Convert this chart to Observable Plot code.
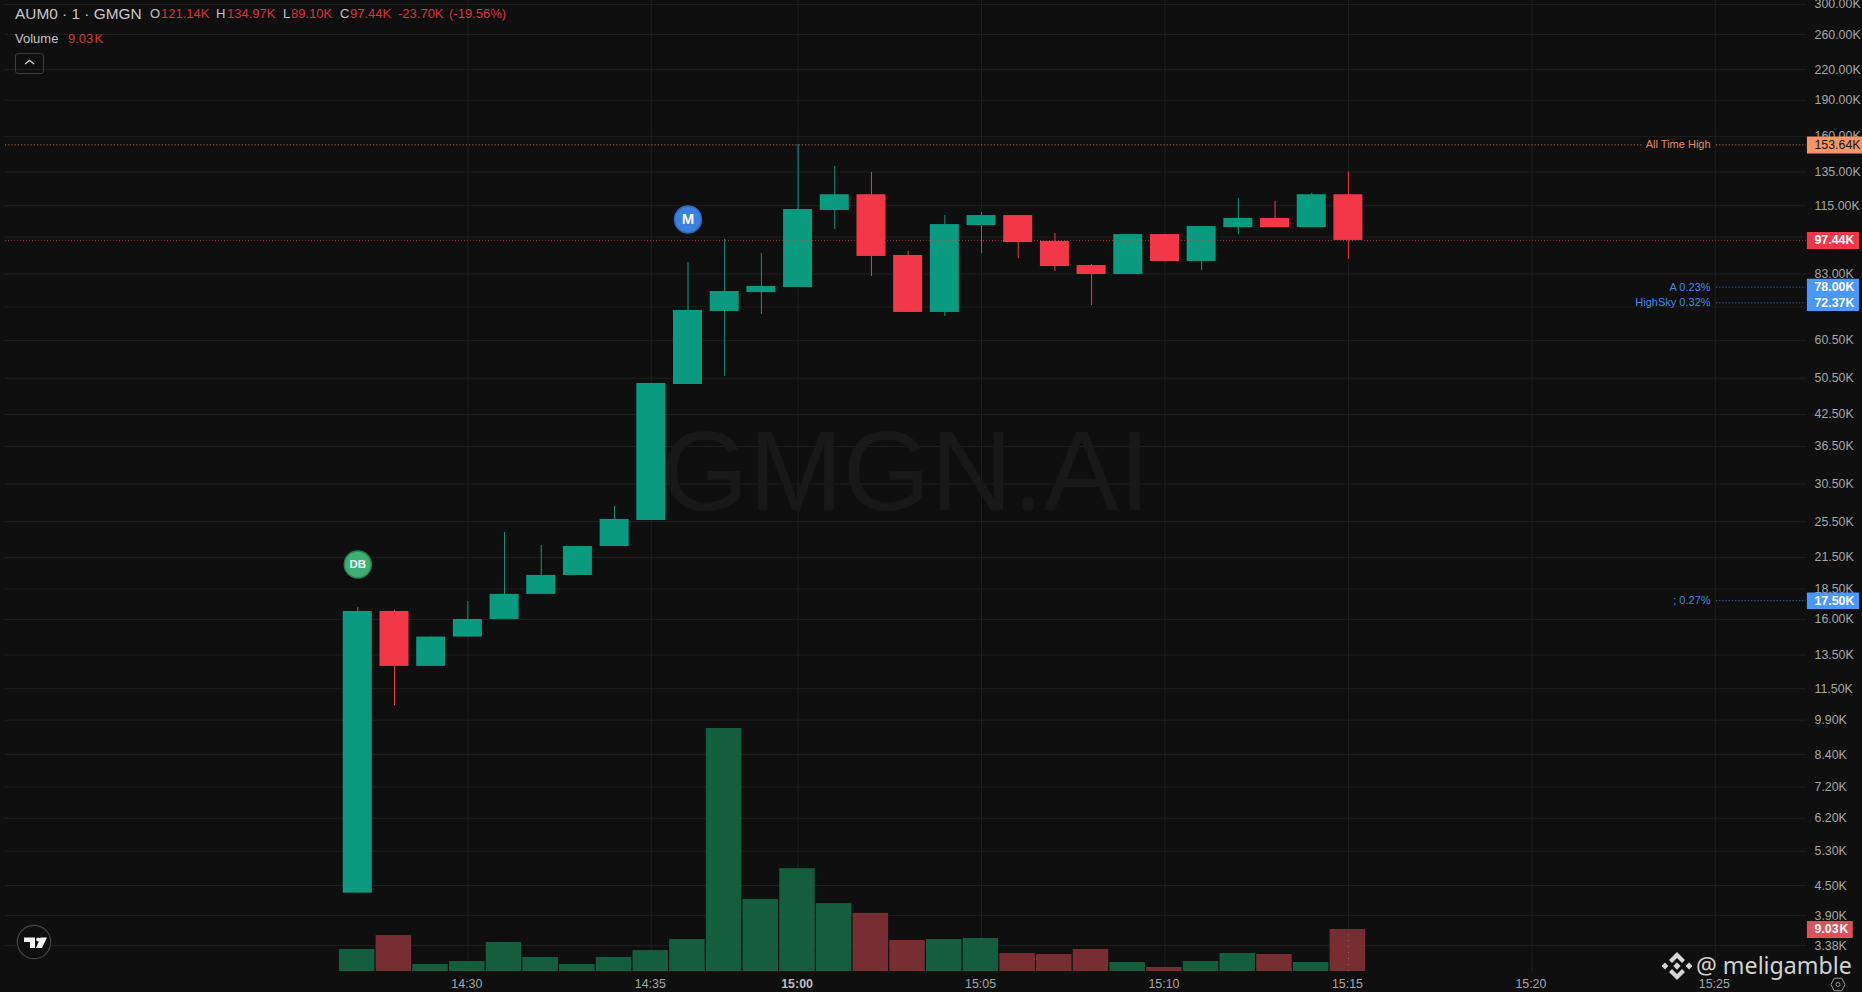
<!DOCTYPE html>
<html>
<head>
<meta charset="utf-8">
<script src="https://cdn.jsdelivr.net/npm/d3@7"></script>
<script src="https://cdn.jsdelivr.net/npm/@observablehq/plot@0.6"></script>
<style>
html,body{margin:0;padding:0;background:#0f0f0f;overflow:hidden}
#stage{position:relative;width:1862px;height:992px;background:#0f0f0f;font-family:"Liberation Sans",Arial,sans-serif;overflow:hidden}
#stage svg.layer{position:absolute;left:0;top:0;max-width:none}
.t{position:absolute;white-space:pre;line-height:16px;font-size:13px;color:#c4c4c4}
</style>
</head>
<body>
<div id="stage"></div>
<script>
// ---------- data (K) ----------
const opens  = [4.34,16.62,12.79,14.71,16.00,18.03,19.73,22.65,25.64,49.03,69.45,76.00,77.87,112.4,121.14,90.70,69.12,104.6,109.7,96.93,86.45,82.84,100.2,88.14,103.6,108.2,103.6,121.14];
const highs  = [16.94,16.71,14.71,17.43,24.22,22.76,22.65,27.41,49.27,87.72,97.90,91.56,153.64,138.6,134.7,92.42,109.7,111.3,109.7,100.7,86.87,100.2,100.2,104.1,119.0,117.3,122.0,134.97];
const lows   = [4.34,10.61,12.79,14.71,16.00,18.03,19.73,22.65,25.64,49.03,50.94,68.47,77.87,102.65,82.05,69.12,67.80,91.56,89.40,84.03,71.46,82.84,88.14,84.43,100.2,103.6,103.6,89.10];
const closes = [16.62,12.79,14.71,16.00,18.03,19.73,22.65,25.77,49.27,69.78,76.37,78.24,112.9,121.14,90.27,69.12,105.1,109.7,96.47,86.04,82.84,100.2,88.14,104.1,108.2,103.6,121.14,97.44];
const volumes= [4.73,7.74,1.50,2.15,6.24,3.00,1.50,3.00,4.50,6.88,52.25,15.5,22.1,14.6,12.5,6.67,6.88,7.10,3.87,3.66,4.73,1.94,0.86,2.15,3.87,3.66,1.94,9.03];
const priceTicks = [300,260,220,190,160,135,115,99,83,71,60.5,50.5,42.5,36.5,30.5,25.5,21.5,18.5,16,13.5,11.5,9.9,8.4,7.2,6.2,5.3,4.5,3.9,3.38];
const timeTicks  = [3,8,17,22,27,32,37];
const timeLabels = ["14:30","14:35","15:05","15:10","15:15","15:20","15:25"];
const boldTick = 12, boldLabel = "15:00";
const athValue = 153.64, lastValue = 97.44;
const blueLevels = [{v:78.00,label:"A 0.23%"},{v:72.37,label:"HighSky 0.32%"},{v:17.50,label:"; 0.27%"}];
const dbMarker = [{i:0,v:20.8,t:"DB"}];
const mMarker  = [{i:9,v:107.7,t:"M"}];

const GREEN="#0a9a80", RED="#f23848";
const candles = opens.map((o,i)=>({i,o,h:highs[i],l:lows[i],c:closes[i],up:closes[i]>=o,v:volumes[i]}));
const xDomain=[-9.602,39.485], axisStart=39.51, axisEnd=40.93, edge=41.02, volEnd=40.76, lblEnd=37.03, lblGap=35.0;
const common={width:1862,height:992,marginLeft:5,marginRight:56,marginTop:0};
const font={background:"none",fontFamily:'"Liberation Sans",Arial,sans-serif',fontSize:"12.4px",overflow:"visible"};
const fmt=d=>d.toFixed(2)+"K";

const price = Plot.plot({
  ...common, marginBottom:20, style:font,
  x:{type:"linear",domain:xDomain},
  y:{type:"log",domain:[2.973,305.8]},
  marks:[
    Plot.gridX(timeTicks.concat(boldTick),{stroke:"#1f1f1f",strokeOpacity:1}),
    Plot.gridY(priceTicks,{stroke:"#1f1f1f",strokeOpacity:1}),
    Plot.text(["GMGN.AI"],{x:14.93,y:32,text:d=>d,fontSize:113,fill:"#181818",textAnchor:"middle",lineAnchor:"middle"}),
    Plot.axisY(priceTicks,{anchor:"right",tickSize:0,tickPadding:8,tickFormat:fmt,fill:"#a6a6a6"}),
    Plot.axisX(timeTicks,{anchor:"bottom",tickSize:0,tickPadding:7,tickFormat:d=>timeLabels[timeTicks.indexOf(d)],fill:"#a6a6a6",label:null,dx:-1}),
    Plot.axisX([boldTick],{anchor:"bottom",tickSize:0,tickPadding:7,tickFormat:()=>boldLabel,fill:"#bdbdbd",fontWeight:"bold",label:null,dx:-1}),
    Plot.ruleX(candles,{x:"i",y1:"l",y2:"h",stroke:d=>d.up?GREEN:RED,strokeWidth:1}),
    Plot.rect(candles,{x1:d=>d.i-.5,x2:d=>d.i+.5,y1:"o",y2:"c",insetLeft:3.85,insetRight:3.85,fill:d=>d.up?GREEN:RED}),
    Plot.ruleY([athValue],{x1:xDomain[0],x2:lblGap,stroke:"#d98a62",strokeOpacity:.8,strokeDasharray:"1.2,2"}),
    Plot.ruleY([athValue],{x1:lblEnd,x2:xDomain[1],stroke:"#d98a62",strokeOpacity:.8,strokeDasharray:"1.2,2"}),
    Plot.ruleY([lastValue],{x1:xDomain[0],x2:xDomain[1],stroke:RED,strokeOpacity:.65,strokeDasharray:"1,2"}),
    Plot.ruleY(blueLevels,{y:"v",x1:lblEnd,x2:xDomain[1],stroke:"#4a94ff",strokeOpacity:.7,strokeDasharray:"1.2,2"}),
    Plot.text(["All Time High"],{x:36.87,y:athValue,text:d=>d,textAnchor:"end",fontSize:11,fill:"#e58a60"}),
    Plot.text(blueLevels,{x:36.87,y:"v",text:"label",textAnchor:"end",fontSize:11,fill:"#3f8be6"}),
    Plot.dot(dbMarker,{x:"i",y:"v",r:13.5,fill:"#3fae74",stroke:"#2a8050",strokeWidth:1.5}),
    Plot.dot(mMarker,{x:"i",y:"v",r:13.5,fill:"#3a80dc",stroke:"#2f66b4",strokeWidth:1.5}),
    Plot.text(dbMarker,{x:"i",y:"v",text:"t",fill:"#f0fff6",fontWeight:"bold",fontSize:11.5}),
    Plot.text(mMarker,{x:"i",y:"v",text:"t",fill:"#f4f8ff",fontWeight:"bold",fontSize:15}),
    Plot.ruleY([athValue],{x1:axisStart,x2:edge,stroke:"#f5956a",strokeWidth:17}),
    Plot.ruleY([lastValue],{x1:axisStart,x2:axisEnd,stroke:RED,strokeWidth:17}),
    Plot.ruleY(blueLevels,{y:"v",x1:axisStart,x2:axisEnd,stroke:"#4a97ff",strokeWidth:16.5}),
    Plot.text([athValue],{x:axisStart,y:d=>d,text:fmt,textAnchor:"start",dx:7,fill:"#141414"}),
    Plot.text([lastValue],{x:axisStart,y:d=>d,text:fmt,textAnchor:"start",dx:7,fill:"#fff",fontWeight:"bold"}),
    Plot.text(blueLevels,{x:axisStart,y:"v",text:d=>fmt(d.v),textAnchor:"start",dx:7,fill:"#fff",fontWeight:"bold"})
  ]
});
price.classList.add("layer");

const lastVol = volumes[volumes.length-1];
const volume = Plot.plot({
  ...common, marginBottom:21, style:font,
  x:{type:"linear",domain:xDomain,axis:null},
  y:{type:"linear",domain:[0,208.8],axis:null},
  marks:[
    Plot.rect(candles,{x1:d=>d.i-.5,x2:d=>d.i+.5,y1:0,y2:"v",insetLeft:0,insetRight:1.2,fill:d=>d.up?"#156140":"#7a3035",fillOpacity:.97}),
    Plot.ruleX([27],{x:d=>d,y1:0,y2:8.2,stroke:"#b98a8a",strokeOpacity:.55,strokeDasharray:"1,5"}),
    Plot.ruleY([lastVol],{x1:axisStart,x2:volEnd,stroke:"#e0505a",strokeWidth:17}),
    Plot.text([lastVol],{x:axisStart,y:d=>d,text:d=>d.toFixed(2)+"\u200aK",textAnchor:"start",dx:7,fill:"#fff",fontWeight:"bold"})
  ]
});
volume.classList.add("layer");

const stage=document.getElementById("stage");
stage.append(price,volume);

// ---------- header / overlays ----------
const header=[
 ["AUM0 · 1 · GMGN",15,6,"font-size:15.4px;color:#c8c8c8"],
 ["O",150,6,""],["121.14K",161,6,"color:#d8323f"],
 ["H",216,6,""],["134.97K",227,6,"color:#d8323f"],
 ["L",283,6,""],["89.10K",291,6,"color:#d8323f"],
 ["C",340,6,""],["97.44K",350,6,"color:#d8323f"],
 ["-23.70K",398,6,"color:#d8323f"],["(-19.56%)",449,6,"color:#d8323f"],
 ["Volume",15,31,""],["9.03\u200aK",68,31,"color:#d8323f"]
];
for(const [s,x,y,st] of header){
  const d=document.createElement("div");d.className="t";d.textContent=s;
  d.style.cssText+=`left:${x}px;top:${y}px;${st}`;stage.append(d);
}
const deco=document.createElement("div");
deco.innerHTML=`
<div style="position:absolute;left:15px;top:53px;width:27px;height:19px;border:1px solid #3c3c3c;border-radius:3px"></div>
<svg style="position:absolute;left:23px;top:58px" width="13" height="9"><path d="M2 6 L6.5 2.5 L11 6" fill="none" stroke="#c8c8c8" stroke-width="1.4"/></svg>
<svg style="position:absolute;left:16px;top:924px" width="36" height="36">
 <circle cx="18" cy="18" r="16.7" fill="#0f0f0f" stroke="#444" stroke-width="1.2"/>
 <path d="M8 13.5h11v10.5h-5v-6H8z M24.5 13.5h6.5l-5 10.5h-6z" fill="#f4f4f4"/><circle cx="22.2" cy="15.6" r="2" fill="#f4f4f4"/>
</svg>
<svg style="position:absolute;left:1662px;top:951px" width="30" height="30" viewBox="0 0 30 30" fill="#d6d6d6">
 <rect x="-2.4" y="-2.4" width="4.8" height="4.8" transform="translate(3 15) rotate(45)"/>
 <rect x="-2.4" y="-2.4" width="4.8" height="4.8" transform="translate(27 15) rotate(45)"/>
 <rect x="-2.6" y="-2.6" width="5.2" height="5.2" transform="translate(15 15) rotate(45)"/>
 <path d="M15 1 L23 9 L20 12 L15 7 L10 12 L7 9Z M15 29 L23 21 L20 18 L15 23 L10 18 L7 21Z"/>
</svg>
<div class="t" style="left:1696px;top:950px;font:23.2px/30px 'Noto Sans',sans-serif;color:#d2d2d2">@ meligamble</div>
<svg style="position:absolute;left:1830px;top:977px" width="16" height="15" viewBox="0 0 16 15" fill="none" stroke="#9a9a9a" stroke-width="1">
 <path d="M4.3 1.2h7.4L15 7.5l-3.3 6.3H4.3L1 7.5z"/><circle cx="8" cy="7.5" r="2"/>
</svg>`;
stage.append(deco);
</script>
</body>
</html>
